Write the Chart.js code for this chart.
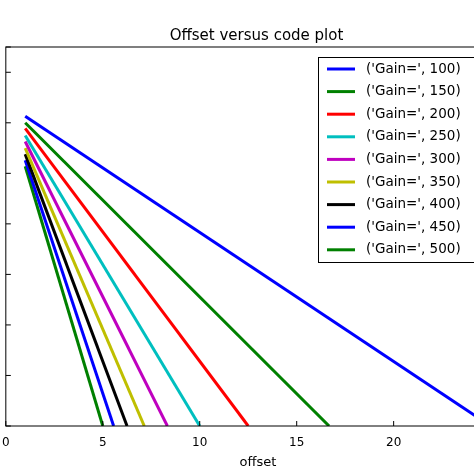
<!DOCTYPE html>
<html><head><style>html,body{margin:0;padding:0;overflow:hidden;background:#fff;width:474px;height:474px}
#w{position:absolute;left:0;top:0;width:524px;height:474px}</style>
<script src="https://cdn.jsdelivr.net/npm/chart.js@4"></script></head><body>
<div id="w"><canvas id="c"></canvas></div>
<script>
const gains=[100,150,200,250,300,350,400,450,500];
const startY=[6.13,6.0,5.89,5.75,5.63,5.5,5.38,5.26,5.14];
const endX=[25,16.67,12.5,10,8.33,7.14,6.25,5.56,5];
const colors=['#0000ff','#008000','#ff0000','#00bfbf','#bf00bf','#bfbf00','#000000','#0000ff','#008000'];
const xTicks=[0,5,10,15,20,25];
const datasets=gains.map((g,i)=>({label:"('Gain=', "+g+")",data:[{x:1,y:startY[i]},{x:endX[i],y:0}],borderColor:colors[i],borderWidth:3,pointRadius:0,fill:false}));
const legendPlugin={id:'lg',afterDraw(ch){const c=ch.ctx;c.save();const x0=318,y0=57,w=200,h=205;
c.fillStyle='#fff';c.fillRect(x0,y0,w,h);c.strokeStyle='#000';c.lineWidth=1;c.strokeRect(x0+.5,y0+.5,w,h);
c.font='13.5px "DejaVu Sans"';c.textBaseline='middle';
ch.data.datasets.forEach((d,i)=>{const y=y0+12+i*22.6;c.strokeStyle=d.borderColor;c.lineWidth=3;c.beginPath();c.moveTo(327,y);c.lineTo(355,y);c.stroke();c.fillStyle='#000';c.fillText(d.label,366,y);});
c.restore();}};
const framePlugin={id:'fr',afterDraw(ch){const a=ch.chartArea,c=ch.ctx;c.save();c.strokeStyle='#000';c.lineWidth=1;c.strokeRect(a.left,a.top,a.right-a.left,a.bottom-a.top);
c.beginPath();ch.scales.y.ticks.forEach(t=>{const y=ch.scales.y.getPixelForValue(t.value);c.moveTo(a.left,y);c.lineTo(a.left+5,y);});
xTicks.forEach(v=>{const x=ch.scales.x.getPixelForValue(v);c.moveTo(x,a.bottom);c.lineTo(x,a.bottom-5);});c.stroke();c.restore();}};
new Chart(document.getElementById('c'),{type:'line',data:{datasets},plugins:[legendPlugin,framePlugin],
options:{responsive:true,maintainAspectRatio:false,animation:false,layout:{padding:{left:3,right:14,top:0,bottom:4}},
plugins:{legend:{display:false},title:{display:true,text:'Offset versus code plot',color:'#000',font:{family:'DejaVu Sans',size:15,weight:'normal'},padding:{top:27,bottom:2}},tooltip:{enabled:false}},
scales:{x:{type:'linear',min:0,max:26,afterBuildTicks(s){s.ticks=xTicks.map(v=>({value:v}));},grid:{display:false},border:{display:false},
ticks:{color:'#000',font:{family:'DejaVu Sans',size:12},padding:2,maxRotation:0},
title:{display:true,text:'offset',color:'#000',font:{family:'DejaVu Sans',size:13},padding:{top:2,bottom:0}}},
y:{min:0,max:7.5,grid:{display:false},border:{display:false},ticks:{display:false,stepSize:1},afterFit(s){s.width=0;}}}}});
</script></body></html>
